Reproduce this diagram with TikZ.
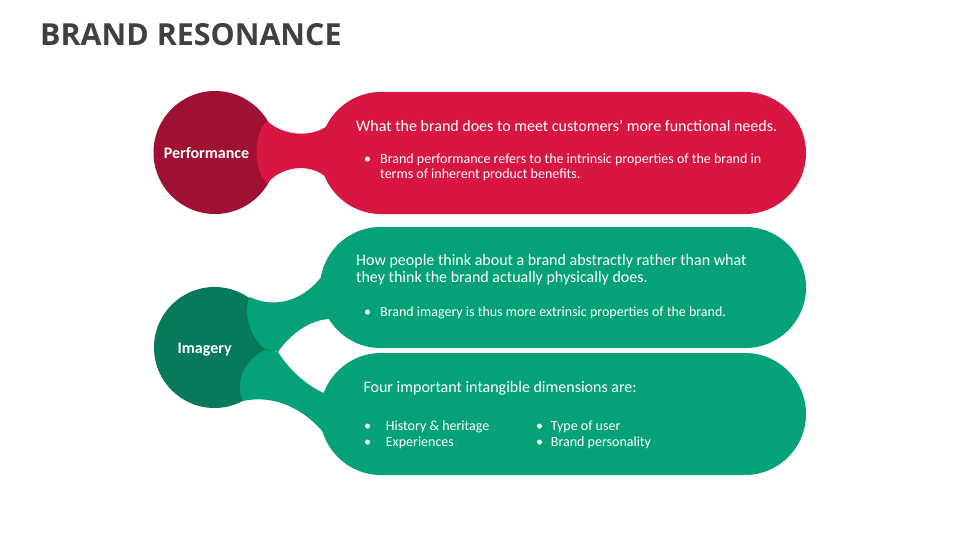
\documentclass[tikz,border=0pt]{standalone}
\usepackage{fontspec}
\setmainfont{Carlito}
\newfontfamily\titlefont{Open Sans}
\definecolor{titlegray}{HTML}{404040}
\definecolor{redDark}{HTML}{A01032}
\definecolor{redMain}{HTML}{D81642}
\definecolor{greenDark}{HTML}{067A5A}
\definecolor{greenMain}{HTML}{05A279}
\begin{document}
\begin{tikzpicture}[x=1pt,y=-1pt,
  body/.style={anchor=base west, text=white, inner sep=0pt, font=\fontsize{16}{19}\selectfont},
  small/.style={anchor=base west, text=white, inner sep=0pt, font=\fontsize{14}{16}\selectfont},
  lbl/.style={anchor=base, text=white, inner sep=0pt, font=\bfseries\fontsize{16}{19}\selectfont}]
\useasboundingbox (0,0) rectangle (960,540);
% title
\node[anchor=base west, inner sep=0pt, text=titlegray, font=\titlefont\bfseries\fontsize{30.4}{36}\selectfont] (title) at (40,46) {BRAND RESONANCE};
% performance
\fill[redDark] (215,152.5) circle (61.5pt);
\fill[redMain] (267,121) .. controls (285,137) and (312,137) .. (327,126) -- (350,126) -- (350,178) -- (327,178) .. controls (312,164) and (285,164) .. (267,183) .. controls (253,170) and (253,134) .. (267,121) -- cycle;
\fill[redMain, rounded corners=61pt] (320,92) rectangle (806,214);
% imagery
\fill[greenDark] (214.5,347.5) circle (60.5pt);
\fill[greenMain] (250,297) .. controls (270,307) and (300,305) .. (322,276) -- (350,276) -- (350,319) -- (329,319) .. controls (310,320) and (290,334) .. (278,352) -- (265,349) .. controls (248,335) and (243,310) .. (250,297) -- cycle;
\fill[greenMain] (265,350) -- (278,352) .. controls (288,368) and (305,385) .. (324,393) -- (350,393) -- (350,432) -- (323,432) .. controls (300,405) and (270,395) .. (243,401) .. controls (236,388) and (240,362) .. (265,350) -- cycle;
\fill[greenMain, rounded corners=60.5pt] (320,227) rectangle (806,348);
\fill[greenMain, rounded corners=61pt] (320,353) rectangle (806,475);
% labels
\node[lbl] (perf) at (206.5,158.3) {Performance};
\node[lbl] (imag) at (204.7,353.3) {Imagery};
% red pill text
\node[body] (p1) at (356,131.7) {What the brand does to meet customers’ more functional needs.};
\node[small] (pb) at (364,163.3) {•};
\node[small] (p2) at (380,163.3) {Brand performance refers to the intrinsic properties of the brand in};
\node[small] (p3) at (380,178.3) {terms of inherent product benefits.};
% green pill 1 text
\node[body] (i1) at (356,265.7) {How people think about a brand abstractly rather than what};
\node[body] (i2) at (356,282.7) {they think the brand actually physically does.};
\node[small] (ib) at (364,316) {•};
\node[small] (i3) at (380,316) {Brand imagery is thus more extrinsic properties of the brand.};
% green pill 2 text
\node[body] (f1) at (363.3,392.7) {Four important intangible dimensions are:};
\node[small] (fb1) at (364,430) {•};
\node[small] (f2) at (385.7,430) {History \& heritage};
\node[small] (fb2) at (364,446) {•};
\node[small] (f3) at (385.7,446) {Experiences};
\node[small] (fb3) at (536,430) {•};
\node[small] (f4) at (550.7,430) {Type of user};
\node[small] (fb4) at (536,446) {•};
\node[small] (f5) at (550.7,446) {Brand personality};
\end{tikzpicture}
\end{document}
